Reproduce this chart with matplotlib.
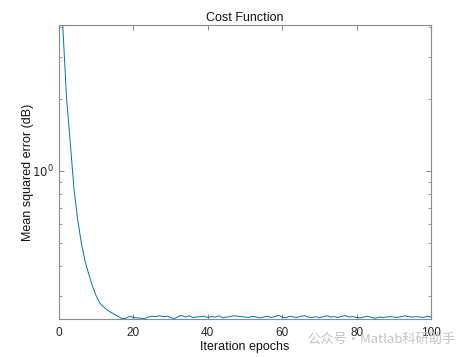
import numpy as np
import matplotlib
matplotlib.use("Agg")
import matplotlib.pyplot as plt
from matplotlib.ticker import LogLocator, NullFormatter, FixedLocator

plt.rcParams['font.family'] = ['Liberation Sans', 'DejaVu Sans']

# cost per epoch
epochs = np.arange(1, 101)
cost_start = [4.08, 2.05, 1.33, 0.85, 0.63, 0.50, 0.42, 0.37, 0.33, 0.30,
              0.280, 0.270, 0.262, 0.256, 0.251, 0.246, 0.241]
cost_tail = [0.242, 0.247, 0.244, 0.243, 0.242, 0.241, 0.245, 0.247, 0.246,
             0.248, 0.246, 0.247, 0.244, 0.241, 0.246, 0.249, 0.245, 0.248,
             0.244, 0.245, 0.246, 0.247, 0.244, 0.246, 0.245, 0.248, 0.243,
             0.245, 0.246, 0.248, 0.247, 0.246, 0.245, 0.244, 0.247, 0.245,
             0.243, 0.245, 0.247, 0.244, 0.246, 0.249, 0.245, 0.243, 0.247,
             0.245, 0.244, 0.247, 0.248, 0.245, 0.244, 0.246, 0.243, 0.246,
             0.248, 0.245, 0.246, 0.244, 0.247, 0.248, 0.245, 0.246, 0.244,
             0.243, 0.245, 0.247, 0.244, 0.242, 0.245, 0.244, 0.245, 0.246,
             0.245, 0.244, 0.246, 0.248, 0.246, 0.245, 0.246, 0.245, 0.244,
             0.247, 0.245]
cost = cost_start + cost_tail

fig = plt.figure(figsize=(4.74, 3.57), dpi=100)
ax = fig.add_axes([59/474, 38/357, 372/474, 294/357])

ax.plot(epochs, cost, color='#0072BD', lw=0.7)
ax.set_yscale('log')
ax.set_xlim(0, 100)
ax.set_ylim(0.2404, 4.08)

ax.xaxis.set_major_locator(FixedLocator([0, 20, 40, 60, 80, 100]))
ax.yaxis.set_major_locator(FixedLocator([1.0]))
ax.yaxis.set_minor_locator(LogLocator(base=10, subs=np.arange(2, 10)))
ax.yaxis.set_minor_formatter(NullFormatter())
ax.set_yticklabels([r'$10^0$'])

grey = '#8c8c8c'
for s in ax.spines.values():
    s.set_color(grey)
    s.set_linewidth(0.8)
ax.tick_params(which='both', direction='in', top=True, right=True,
               colors=grey, labelcolor='#262626', labelsize=8.5)
ax.tick_params(axis='x', pad=6)
ax.tick_params(which='major', length=3.5)
ax.tick_params(which='minor', length=2)

ax.set_title('Cost Function', fontsize=9, color='#111111', pad=3)
ax.set_xlabel('Iteration epochs', fontsize=9, color='#111111')
ax.set_ylabel('Mean squared error (dB)', fontsize=9, color='#111111')
ax.xaxis.set_label_coords(0.5, -(347 - 319) / 294, transform=ax.transAxes)
ax.yaxis.set_label_coords(-(59 - 28) / 372, 0.5, transform=ax.transAxes)
ax.xaxis.label.set_va('center')
ax.yaxis.label.set_va('center')

fig.text(307/474, 1 - 339/357, '公众号·Matlab科研助手', fontsize=9.5,
         color='#c4c4c4', va='center',
         family=['Noto Sans CJK SC', 'DejaVu Sans'])

fig.savefig('out.png', dpi=100)
